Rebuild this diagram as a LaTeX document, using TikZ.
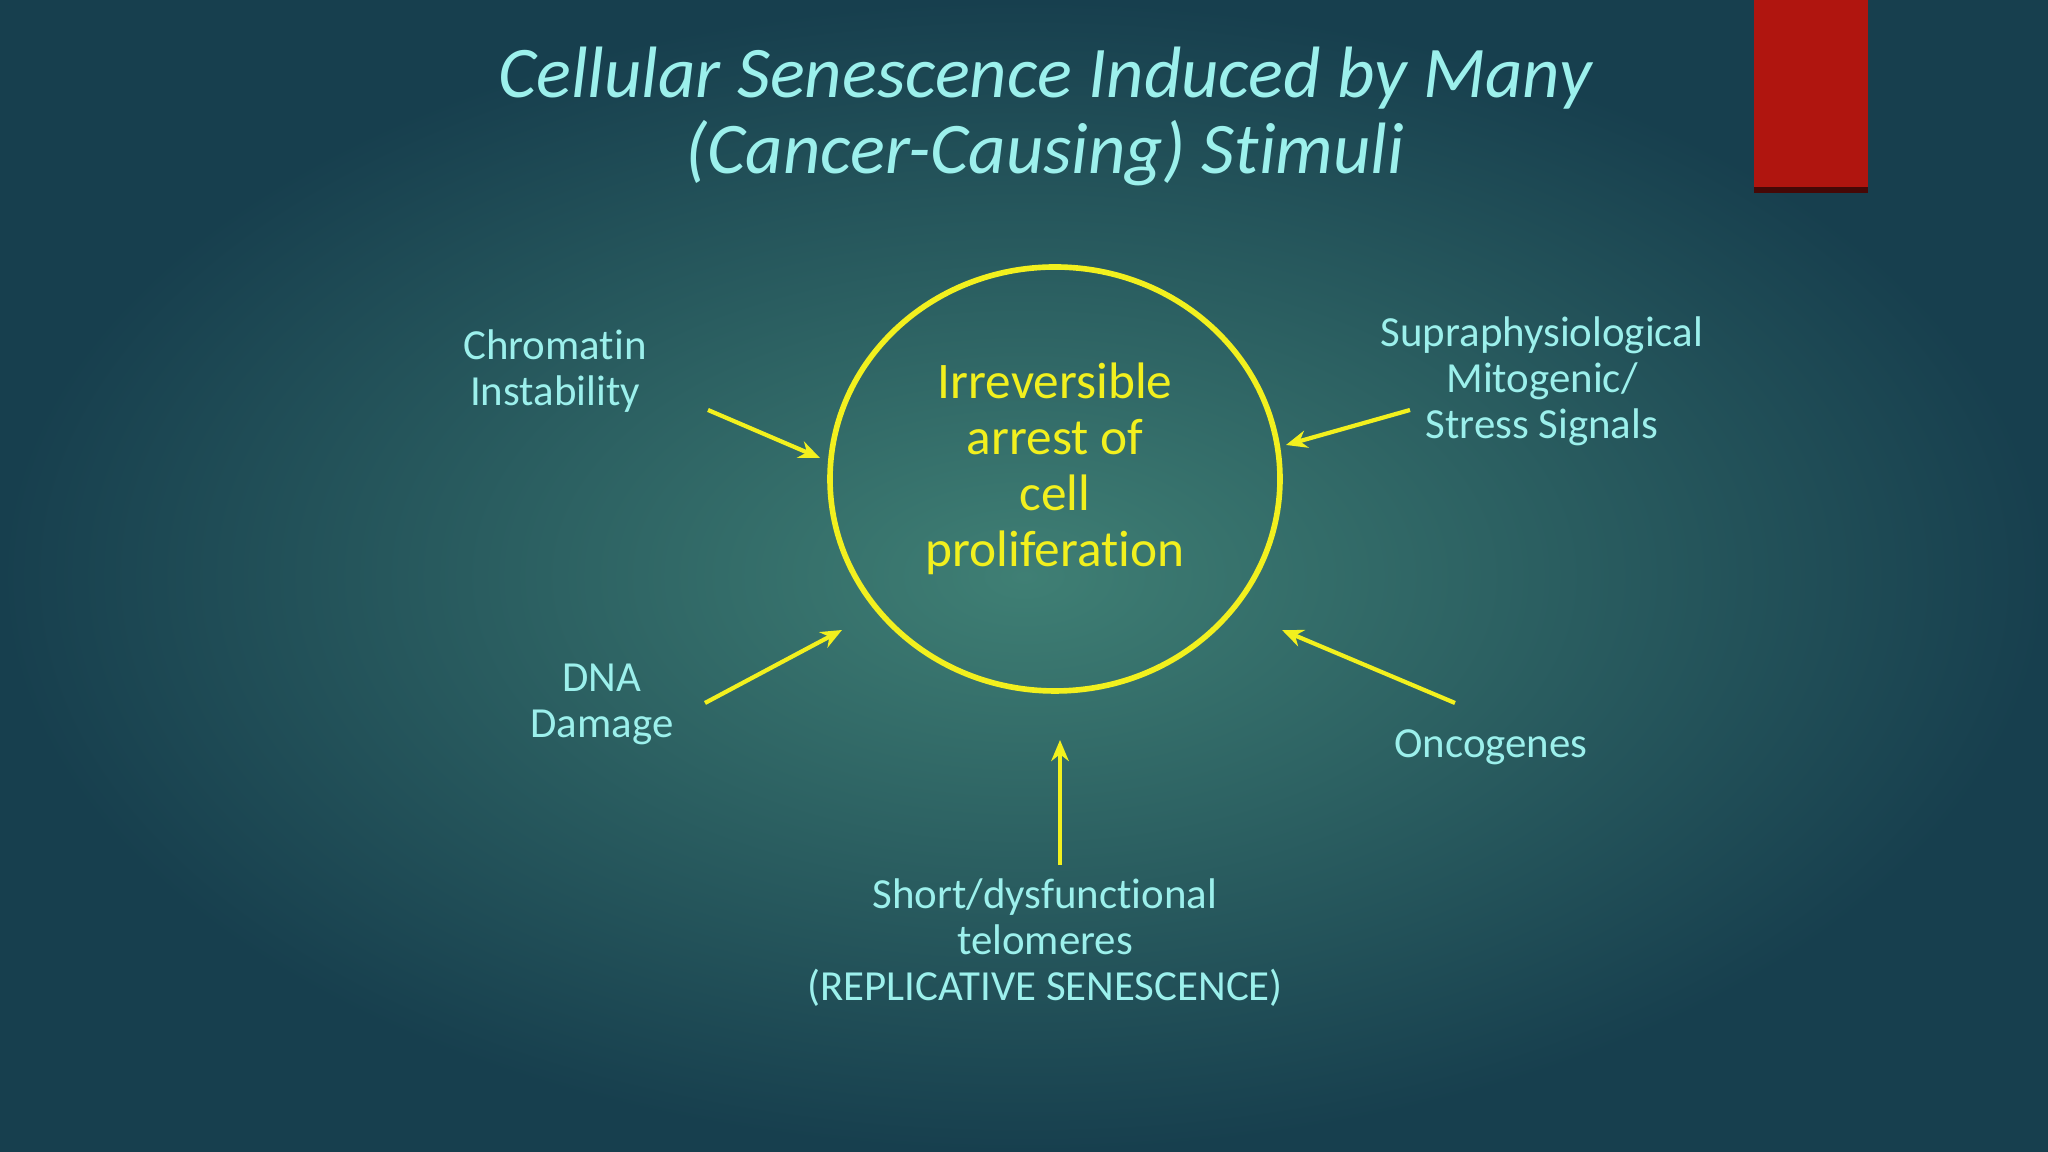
\documentclass[tikz,border=0pt]{standalone}
\usepackage{fontspec}
\setmainfont{Carlito}[Ligatures=NoCommon]
\usetikzlibrary{arrows.meta,positioning}
\definecolor{bgin}{HTML}{3F7F74}
\definecolor{bgout}{HTML}{173F4E}
\definecolor{txtcyan}{HTML}{9CF0EC}
\definecolor{arrowyel}{HTML}{F2F01E}
\definecolor{barred}{HTML}{B0150F}

\begin{document}
\begin{tikzpicture}
\tikzset{
  cause/.style={text=txtcyan, align=center, font=\fontsize{12.2pt}{0.46cm}\selectfont},
  push/.style={arrowyel, line width=1.2pt, -{Stealth[length=6pt,width=5pt]}}
}
% background
\useasboundingbox (0,0) rectangle (20.48,11.52);
\shade[inner color=bgin, outer color=bgout] (0,0) rectangle (20.48,11.52);
\fill[barred] (17.54,9.6) rectangle (18.68,11.52);
\draw[black!60!barred, line width=1.5pt] (17.54,9.62) -- (18.68,9.62);
% title
\node[text=txtcyan, align=center, font=\fontsize{20.7pt}{0.76cm}\selectfont\itshape] (title) at (10.45,10.36)
  {Cellular Senescence Induced by Many\\(Cancer-Causing) Stimuli};
% centre
\draw[arrowyel, line width=1.6pt] (10.55,6.73) ellipse (2.25 and 2.12);
\node[text=arrowyel, align=center, font=\fontsize{14.6pt}{0.56cm}\selectfont] (arrest) at (10.55,6.83)
  {Irreversible\\arrest of\\cell\\proliferation};
% causes
\node[cause] (chrom) at (5.55,7.81) {Chromatin\\Instability};
\node[cause] (supra) at (15.42,7.71) {Supraphysiological\\Mitogenic/\\Stress Signals};
\node[cause] (dna) at (6.02,4.48) {DNA\\Damage};
\node[cause] (onco) at (14.91,4.05) {Oncogenes};
\node[cause] (telo) at (10.45,2.09) {Short/dysfunctional\\telomeres\\(REPLICATIVE SENESCENCE)};
% arrow ends
\coordinate (chromA) at (7.08,7.42);  \coordinate (chromB) at (8.20,6.94);
\coordinate (supraA) at (14.10,7.42); \coordinate (supraB) at (12.86,7.07);
\coordinate (dnaA) at (7.05,4.49);    \coordinate (dnaB) at (8.42,5.22);
\coordinate (oncoA) at (14.55,4.49);  \coordinate (oncoB) at (12.82,5.22);
\coordinate (teloA) at (10.60,2.87);  \coordinate (teloB) at (10.60,4.12);
\foreach \c in {chrom,supra,dna,onco,telo}
  \draw[push] (\c A) -- (\c B);
\end{tikzpicture}
\end{document}
